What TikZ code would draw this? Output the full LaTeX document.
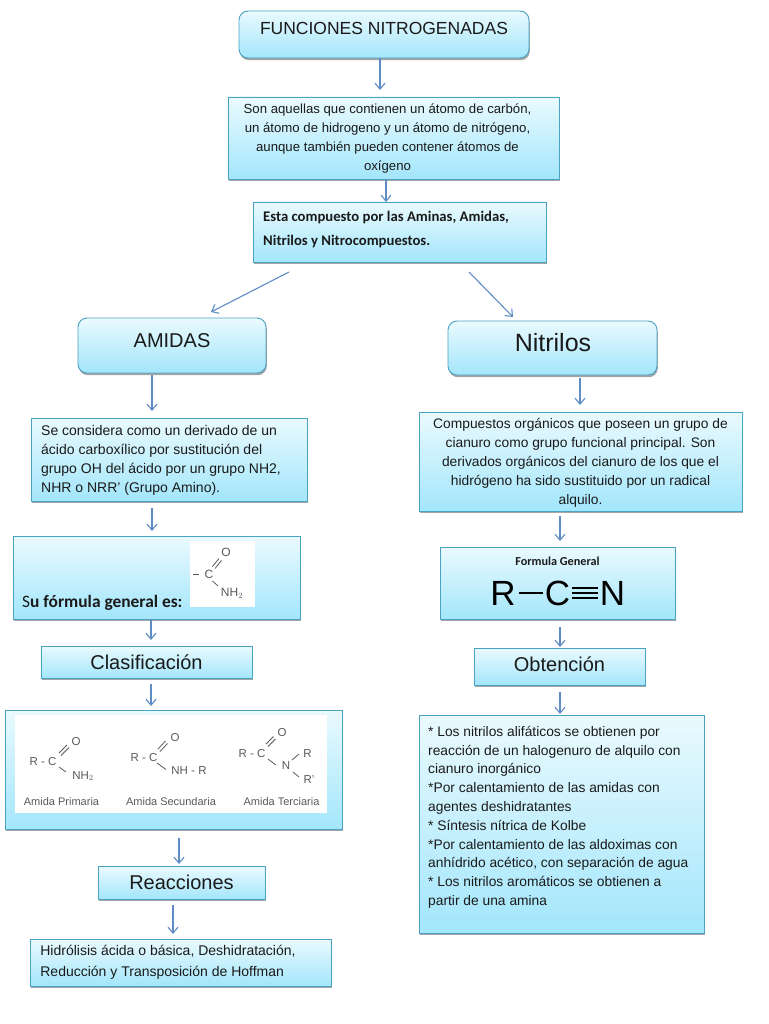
\documentclass[tikz,border=0pt]{standalone}
\usepackage{fontspec}
\setmainfont{Liberation Sans}
\newfontfamily\calib{Carlito}
\usetikzlibrary{shadows,arrows.meta}
\newcommand{\fs}[2]{\fontsize{#1}{#2}\selectfont}
\definecolor{edge}{HTML}{4AA3C2}
\definecolor{boxtop}{HTML}{EAFAFE}
\definecolor{boxbot}{HTML}{A3E6FB}
\definecolor{arrowc}{HTML}{5F8CC4}
\definecolor{chem}{HTML}{5A5A5A}
\definecolor{ink}{HTML}{1A1A1A}
\tikzset{
  sbox/.style={draw=edge,line width=0.9pt,top color=boxtop,bottom color=boxbot,inner sep=0pt,outer sep=0pt,
    drop shadow={shadow xshift=0.8pt,shadow yshift=-2.2pt,fill=black!70,opacity=.5}},
  rbox/.style={sbox,rounded corners=9pt},
  body/.style={font=\fs{13.8}{19},text=ink,inner sep=0pt,align=center},
  bodyl/.style={font=\fs{14}{19},text=ink,inner sep=0pt,align=left},
  head/.style={font=\fs{20}{24},text=ink,inner sep=0pt},
  cali/.style={font=\calib\bfseries\fs{14.7}{24},text=ink,inner sep=0pt,align=left},
  arr/.style={draw=arrowc,line width=1.1pt,-{Straight Barb[length=6pt,width=10pt,line width=1.1pt]}},
  bond/.style={draw=chem,line width=0.8pt},
  chemt/.style={text=chem,inner sep=0pt,font=\fs{11.5}{13}},
  chemc/.style={text=chem,inner sep=0pt,font=\fs{11}{12}},
  whitepic/.style={fill=white,draw=none,inner sep=0pt,outer sep=0pt},
}
\begin{document}
\begin{tikzpicture}[x=1pt,y=-1pt]
\useasboundingbox[fill=white] (0,0) rectangle (768,1024);
% boxes
\node[rbox,minimum width=290pt,minimum height=47pt] (top) at (384,34.5) {};
\node[sbox,minimum width=331pt,minimum height=82pt] (def) at (393.5,138) {};
\node[sbox,minimum width=293pt,minimum height=60pt] (esta) at (399.5,232) {};
\node[rbox,minimum width=188pt,minimum height=55pt] (amidas) at (172,345.5) {};
\node[rbox,minimum width=209pt,minimum height=54pt] (nitrilos) at (552.5,348) {};
\node[sbox,minimum width=276pt,minimum height=83pt] (se) at (169,459.5) {};
\node[sbox,minimum width=323pt,minimum height=99pt] (comp) at (580.5,461.5) {};
\node[sbox,minimum width=287pt,minimum height=83pt] (su) at (156.5,577.5) {};
\node[sbox,minimum width=211pt,minimum height=32pt] (clas) at (146.5,662) {};
\node[sbox,minimum width=337pt,minimum height=119pt] (tipos) at (173.5,769.5) {};
\node[sbox,minimum width=167pt,minimum height=33pt] (reac) at (181.5,882.5) {};
\node[sbox,minimum width=301pt,minimum height=47pt] (hidro) at (180.5,962.5) {};
\node[sbox,minimum width=235pt,minimum height=72pt] (form) at (557.5,583) {};
\node[sbox,minimum width=171pt,minimum height=37pt] (obt) at (559.5,666.5) {};
\node[sbox,minimum width=285pt,minimum height=218pt] (nit) at (561.5,824) {};
% texts
\node[head,font=\fs{17.5}{20}] (ttop) at (384,28) {FUNCIONES NITROGENADAS};
\node[body,font=\fs{13.2}{19}] (tdef) at (387.5,138.5) {Son aquellas que contienen un átomo de carbón,\\un átomo de hidrogeno y un átomo de nitrógeno,\\aunque también pueden contener átomos de\\oxígeno};
\node[cali,anchor=north west] (testa) at (263,211) {Esta compuesto por las Aminas, Amidas,\\Nitrilos y Nitrocompuestos.};
\node[head] (tamidas) at (172,341) {AMIDAS};
\node[head,font=\fs{25}{28}] (tnitrilos) at (553,343) {Nitrilos};
\node[bodyl,anchor=north west] (tse) at (41,425) {Se considera como un derivado de un\\ácido carboxílico por sustitución del\\grupo OH del ácido por un grupo NH2,\\NHR o NRR' (Grupo Amino).};
\node[body] (tcomp) at (580.5,462.5) {Compuestos orgánicos que poseen un grupo de\\cianuro como grupo funcional principal. Son\\derivados orgánicos del cianuro de los que el\\hidrógeno ha sido sustituido por un radical\\alquilo.};
\node[cali,anchor=base west,font=\calib\bfseries\fs{17.4}{20}] (tsu) at (22,607) {{\mdseries S}u fórmula general es:};
\node[head] (tclas) at (146.5,662) {Clasificación};
\node[head] (treac) at (181.5,882) {Reacciones};
\node[bodyl,font=\fs{14}{21}] (thidro) at (168,962) {Hidrólisis ácida o básica, Deshidratación,\\Reducción y Transposición de Hoffman};
\node[head] (tobt) at (559.5,664) {Obtención};
\node[cali,font=\calib\bfseries\fs{12.2}{14}] (tfg) at (557.5,561) {Formula General};
% R-C≡N
\node[text=black,inner sep=0pt,font=\fs{35}{40}] (fr) at (503,593) {R};
\node[text=black,inner sep=0pt,font=\fs{35}{40}] (fc) at (557.5,593) {C};
\node[text=black,inner sep=0pt,font=\fs{35}{40}] (fn) at (612.5,593) {N};
\draw[black,line width=2pt] ([xshift=3pt]fr.east) -- ([xshift=-2pt]fc.west);
\foreach \d in {-5,0,5}{\draw[black,line width=1.6pt] ([xshift=2pt,yshift=\d pt]fc.east) -- ([xshift=-2pt,yshift=\d pt]fn.west);}
\node[bodyl,anchor=north west,font=\fs{13.8}{18.8}] (tnit) at (428,726) {* Los nitrilos alifáticos se obtienen por\\reacción de un halogenuro de alquilo con\\cianuro inorgánico\\*Por calentamiento de las amidas con\\agentes deshidratantes\\* Síntesis nítrica de Kolbe\\*Por calentamiento de las aldoximas con\\anhídrido acético, con separación de agua\\* Los nitrilos aromáticos se obtienen a\\partir de una amina};
% formula picture
\node[whitepic,minimum width=65pt,minimum height=66pt] (pic1) at (222.5,574) {};
\node[chemt,font=\fs{12}{13}] (c1) at (209,574) {C};
\node[chemt,font=\fs{12}{13}] (o1) at (226,552) {O};
\node[chemt,font=\fs{12}{13}] (n1) at (232,593) {NH$_2$};
\draw[bond] (193,574) -- (199,574);
\draw[bond] (212.5,566.5) -- (219,558.5);
\draw[bond] (215,568.5) -- (221.5,560.5);
\draw[bond] (212.5,581) -- (218,586);
% amide types
\node[whitepic,minimum width=312pt,minimum height=98pt] (pic2) at (171,764) {};
\node[chemt] (p1r) at (43,762) {R - C};
\node[chemt] (p1o) at (76,742) {O};
\node[chemt] (p1n) at (83,776) {NH$_2$};
\node[chemc] (p1t) at (61.5,802) {Amida Primaria};
\draw[bond] (59,753) -- (67,745);
\draw[bond] (61,755.5) -- (69,747.5);
\draw[bond] (59,767) -- (66,772);
\node[chemt] (p2r) at (144,757.5) {R - C};
\node[chemt] (p2o) at (175,738) {O};
\node[chemt] (p2n) at (189,771) {NH - R};
\node[chemc] (p2t) at (171,802) {Amida Secundaria};
\draw[bond] (158,749) -- (165.5,741);
\draw[bond] (160,751.5) -- (167.5,743.5);
\draw[bond] (157,763) -- (166,769.5);
\node[chemt] (p3r) at (252,753.5) {R - C};
\node[chemt] (p3o) at (282,733) {O};
\node[chemt] (p3n) at (286,766) {N};
\node[chemt] (p3a) at (307.5,753.5) {R};
\node[chemt] (p3b) at (309,780) {R'};
\node[chemc] (p3t) at (281.5,802) {Amida Terciaria};
\draw[bond] (266,744) -- (273.5,736.5);
\draw[bond] (268,746.5) -- (275.5,739);
\draw[bond] (268,759) -- (276,765);
\draw[bond] (292,760) -- (299,754);
\draw[bond] (293,772) -- (299,777);
% connectors
\draw[arr] ([xshift=-4pt]top.south) -- ([xshift=-13.5pt,yshift=7pt]def.north);
\draw[arr] ([xshift=-7.5pt]def.south) -- ([xshift=-13.5pt]esta.north);
\draw[arr] ([xshift=-110.5pt,yshift=-10pt]esta.south) -- ([xshift=39pt,yshift=6pt]amidas.north);
\draw[arr] ([xshift=69.5pt,yshift=-10pt]esta.south) -- ([xshift=-39.5pt,yshift=4pt]nitrilos.north);
\draw[arr] ([xshift=-20pt,yshift=-2pt]amidas.south) -- ([xshift=-17pt,yshift=7pt]se.north);
\draw[arr] ([xshift=-17pt,yshift=-7pt]se.south) -- ([xshift=-4.5pt,yshift=5pt]su.north);
\draw[arr] ([xshift=-5.5pt]su.south) -- ([xshift=4.5pt,yshift=6pt]clas.north);
\draw[arr] ([xshift=4.5pt,yshift=-6pt]clas.south) -- ([xshift=-22.5pt,yshift=4pt]tipos.north);
\draw[arr] ([xshift=5.5pt,yshift=-9pt]tipos.south) -- ([xshift=-2.5pt,yshift=2pt]reac.north);
\draw[arr] ([xshift=-8.5pt,yshift=-6pt]reac.south) -- ([xshift=-7.5pt,yshift=5pt]hidro.north);
\draw[arr] ([xshift=27.5pt,yshift=-3pt]nitrilos.south) -- ([xshift=-0.5pt,yshift=7pt]comp.north);
\draw[arr] ([xshift=-20.5pt,yshift=-5pt]comp.south) -- ([xshift=2.5pt,yshift=6pt]form.north);
\draw[arr] ([xshift=2.5pt,yshift=-8pt]form.south) -- ([xshift=0.5pt,yshift=1pt]obt.north);
\draw[arr] ([xshift=0.5pt,yshift=-7pt]obt.south) -- ([xshift=-1.5pt,yshift=1pt]nit.north);
\end{tikzpicture}
\end{document}
